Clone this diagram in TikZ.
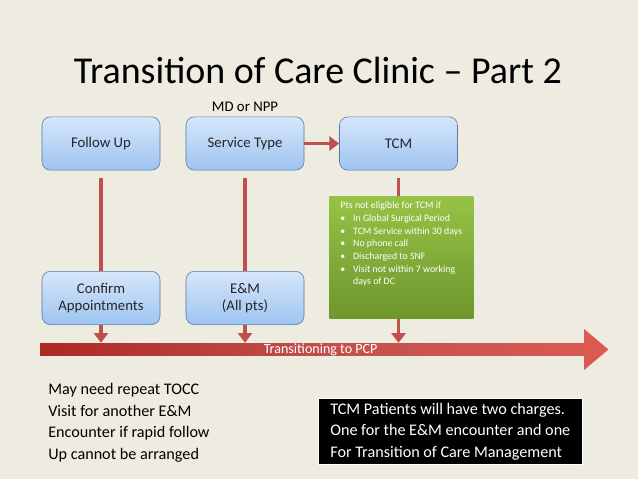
\documentclass[tikz,border=0pt]{standalone}
\usepackage{fontspec}
\setmainfont{Carlito}
\usetikzlibrary{shapes.arrows, positioning, arrows.meta}
\definecolor{bg}{RGB}{238,236,225}
\definecolor{boxtop}{RGB}{214,230,250}
\definecolor{boxbot}{RGB}{158,196,240}
\definecolor{boxline}{RGB}{82,120,170}
\definecolor{linkred}{RGB}{192,80,77}
\definecolor{greentop}{RGB}{150,195,70}
\definecolor{greenbot}{RGB}{110,150,45}
\definecolor{bardark}{RGB}{175,40,35}
\definecolor{barlight}{RGB}{220,90,80}
\tikzstyle{stage} = [rectangle, rounded corners = 6pt, minimum width = 2.95cm,
	minimum height = 1.33cm, align = center, text = black!85, draw = boxline,
	top color = boxtop, bottom color = boxbot, font = \fontsize{10.5}{12.5}\selectfont]
\tikzstyle{link} = [line width = 2.2pt, draw = linkred]
\tikzstyle{arrow} = [link, -{Triangle[length = 7pt, width = 10pt]}]
\newcommand{\pt}[1]{\makebox[9pt][l]{\textbullet}#1}

\begin{document}
\begin{tikzpicture}[x = 0.025cm, y = -0.025cm]
\fill [bg] (0,0) rectangle (638,479);
\useasboundingbox (0,0) rectangle (638,479);

\node (title) at (318,70) {\fontsize{27}{30}\selectfont Transition of Care Clinic -- Part 2};

\node (follow) [stage] at (101,143.5) {Follow Up};
\node (service) [stage] at (245,143.5) {Service Type};
\node (tcm) [stage] at (398.5,143.5) {TCM};
\node (md) [above = 0pt of service.north, font = \fontsize{10.5}{12}\selectfont] {MD or NPP};
\node (confirm) [stage] at (101,298) {Confirm\\Appointments};
\node (em) [stage] at (245,298) {E\&M\\(All pts)};

\node (rules) [rectangle, minimum width = 3.6cm, minimum height = 2.75cm,
	top color = greentop, bottom color = greenbot, text = white,
	font = \fontsize{7}{9}\selectfont, align = left, inner sep = 4pt,
	anchor = north west, text depth = 20pt] at (329,196)
{Pts not eligible for TCM if\\
	\pt{In Global Surgical Period}\\
	\pt{TCM Service within 30 days}\\
	\pt{No phone call}\\
	\pt{Discharged to SNF}\\
	\pt{Visit not within 7 working}\\
	\hspace{9pt}days of DC};

\node (bar) [single arrow, minimum height = 14.2cm, minimum width = 0.63cm,
	single arrow head extend = 0.35cm, single arrow tip angle = 80,
	left color = bardark, right color = barlight, middle color = linkred,
	inner sep = 0pt, anchor = west, font = \fontsize{10}{12}\selectfont,
	text = white] at (40,349.5) {Transitioning to PCP};

\coordinate (fa) at (101,178);
\coordinate (sa) at (245,178);
\coordinate (ta) at (398.5,178);
\draw [link] (fa) -- (confirm.north);
\draw [link] (sa) -- (em.north);
\draw [link] (ta) -- (rules.north -| ta);
\draw [arrow] (confirm.south) -- (confirm.south |- bar.north);
\draw [arrow] (em.south) -- (em.south |- bar.north);
\draw [arrow] (rules.south -| ta) -- (ta |- bar.north);
\draw [arrow] (service.east) -- (tcm.west);

\node (note) [anchor = north west, align = left, inner sep = 0pt,
	font = \fontsize{11.5}{15.3}\selectfont] at (48,383)
{May need repeat TOCC\\Visit for another E\&M\\Encounter if rapid follow\\Up cannot be arranged};
\node (charges) [anchor = north west, fill = black, draw = white, text = white,
	minimum width = 6.6cm, minimum height = 1.55cm, align = left,
	font = \fontsize{11.5}{15.3}\selectfont] at (318,398)
{TCM Patients will have two charges.\\One for the E\&M encounter and one\\For Transition of Care Management};
\end{tikzpicture}
\end{document}
